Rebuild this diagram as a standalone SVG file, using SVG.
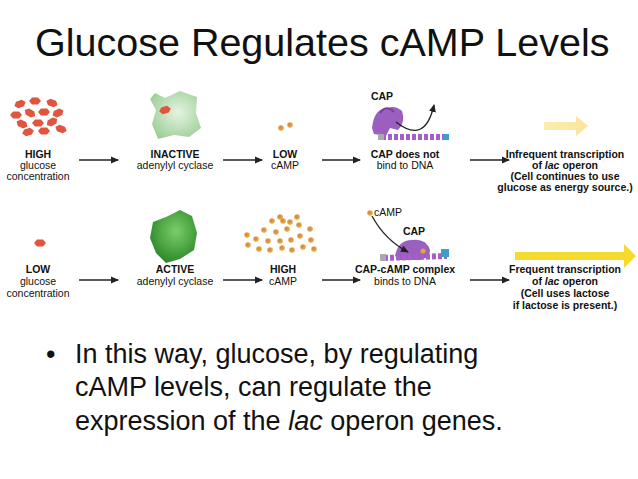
<svg xmlns="http://www.w3.org/2000/svg" xmlns:xlink="http://www.w3.org/1999/xlink" width="638" height="479" viewBox="0 0 638 479">
<style>
.t{font-family:"Liberation Sans",Arial,sans-serif;font-size:10.5px;fill:#111;text-anchor:middle}
.b{font-weight:bold}
.title{font-family:"Liberation Sans",Arial,sans-serif;font-size:39.5px;fill:#111}
.bul{font-family:"Liberation Sans",Arial,sans-serif;font-size:27px;fill:#111}
.con{stroke:#222;stroke-width:1.3;fill:none}
</style>
<defs>
<marker id="ah" markerWidth="8" markerHeight="8" refX="7" refY="4" orient="auto" markerUnits="userSpaceOnUse"><path d="M0,0.5L8,4L0,7.5z" fill="#222"/></marker>
<polygon id="glu" points="-6,0 -3,-3.5 3,-3.5 6,0 3,3.5 -3,3.5" fill="#e0553f"/>
<g id="camp"><circle r="2.8" fill="#e8a33a"/><circle r="1.5" cx="-0.5" cy="-0.5" fill="#c98a6a"/></g>
<radialGradient id="gl" cx="0.55" cy="0.45" r="0.6"><stop offset="0" stop-color="#e6f3e3"/><stop offset="1" stop-color="#9fcf98"/></radialGradient>
<radialGradient id="gd" cx="0.55" cy="0.4" r="0.6"><stop offset="0" stop-color="#7ccd6a"/><stop offset="1" stop-color="#2e8a2a"/></radialGradient>
<linearGradient id="yl" x1="0" x2="1"><stop offset="0" stop-color="#fbeeb0"/><stop offset="1" stop-color="#fae49a"/></linearGradient>
</defs>
<text class="title" x="35" y="56">Glucose Regulates cAMP Levels</text>

<g id="glucose-high">
<use xlink:href="#glu" x="20" y="104" transform="rotate(-20 20 104)"/><use xlink:href="#glu" x="35" y="101"/><use xlink:href="#glu" x="52" y="103" transform="rotate(20 52 103)"/>
<use xlink:href="#glu" x="16" y="115"/><use xlink:href="#glu" x="30" y="113" transform="rotate(30 30 113)"/><use xlink:href="#glu" x="44" y="112"/><use xlink:href="#glu" x="58" y="113" transform="rotate(-25 58 113)"/>
<use xlink:href="#glu" x="22" y="124" transform="rotate(25 22 124)"/><use xlink:href="#glu" x="38" y="123"/><use xlink:href="#glu" x="52" y="122" transform="rotate(-30 52 122)"/>
<use xlink:href="#glu" x="44" y="131"/><use xlink:href="#glu" x="61" y="129" transform="rotate(20 61 129)"/><use xlink:href="#glu" x="28" y="132" transform="rotate(-15 28 132)"/>
<text class="t b" x="38" y="158">HIGH</text><text class="t" x="38" y="169">glucose</text><text class="t" x="38" y="180">concentration</text>
</g>
<g id="cyclase-inactive">
<path d="M155,93 L165,98 L180,91 L197,97 L196,113 L201,128 L189,137 L174,135 L158,139 L152,124 L156,110 L150,99 Z" fill="url(#gl)"/>
<use xlink:href="#glu" x="165" y="110" transform="rotate(-15 165 110)"/>
<text class="t b" x="175" y="158">INACTIVE</text><text class="t" x="175" y="169">adenylyl cyclase</text>
</g>
<g id="camp-low">
<use xlink:href="#camp" x="281" y="128"/><use xlink:href="#camp" x="290" y="125"/>
<text class="t b" x="285" y="158">LOW</text><text class="t" x="285" y="169">cAMP</text>
</g>
<g id="cap-unbound">
<text class="t b" x="382" y="100">CAP</text>
<path d="M372,128 Q374,108 388,108 Q395,105 402,111 Q406,122 398,130 L390,128 L386,136 L374,134 Z" fill="#9b5fc0"/>
<path d="M380,113 Q386,104 394,112" stroke="#7a3fa0" fill="none" stroke-width="2"/>
<path d="M382,137 L449,137" stroke="#a45fc8" stroke-width="6" stroke-dasharray="4 2"/>
<rect x="378" y="134" width="6" height="6" fill="#aaa"/><rect x="443" y="134" width="6" height="6" fill="#3aa0c8"/>
<path d="M396,122 Q425,145 434,105" class="con" marker-end="url(#ah)"/>
<text class="t b" x="405" y="158">CAP does not</text><text class="t" x="405" y="169">bind to DNA</text>
</g>
<g id="transcription-low">
<path d="M544,122 L576,122 L576,116 L588,126 L576,136 L576,130 L544,130 Z" fill="url(#yl)"/>
<text class="t b" x="565" y="158">Infrequent transcription</text>
<text class="t b" x="565" y="169">of <tspan font-style="italic">lac</tspan> operon</text>
<text class="t b" x="565" y="180">(Cell continues to use</text>
<text class="t b" x="565" y="191">glucose as energy source.)</text>
</g>

<g id="glucose-low">
<use xlink:href="#glu" x="40" y="243"/>
<text class="t b" x="38" y="273">LOW</text><text class="t" x="38" y="285">glucose</text><text class="t" x="38" y="297">concentration</text>
</g>
<g id="cyclase-active">
<path d="M153,222 L166,217 L180,210 L192,216 L197,233 L194,250 L180,259 L166,263 L156,253 L150,238 Z" fill="url(#gd)"/>
<text class="t b" x="175" y="273">ACTIVE</text><text class="t" x="175" y="285">adenylyl cyclase</text>
</g>
<g id="camp-high">
<use xlink:href="#camp" x="272" y="221"/><use xlink:href="#camp" x="280" y="217"/><use xlink:href="#camp" x="290" y="222"/><use xlink:href="#camp" x="299" y="225"/><use xlink:href="#camp" x="310" y="229"/><use xlink:href="#camp" x="264" y="230"/><use xlink:href="#camp" x="276" y="232"/><use xlink:href="#camp" x="287" y="229"/><use xlink:href="#camp" x="300" y="236"/><use xlink:href="#camp" x="311" y="240"/><use xlink:href="#camp" x="256" y="239"/><use xlink:href="#camp" x="268" y="241"/><use xlink:href="#camp" x="280" y="241"/><use xlink:href="#camp" x="291" y="240"/><use xlink:href="#camp" x="303" y="247"/><use xlink:href="#camp" x="314" y="249"/><use xlink:href="#camp" x="259" y="249"/><use xlink:href="#camp" x="270" y="250"/><use xlink:href="#camp" x="282" y="248"/><use xlink:href="#camp" x="292" y="250"/><use xlink:href="#camp" x="248" y="245"/><use xlink:href="#camp" x="297" y="217"/><use xlink:href="#camp" x="283" y="221"/><use xlink:href="#camp" x="247" y="235"/>
<text class="t b" x="283" y="273">HIGH</text><text class="t" x="283" y="285">cAMP</text>
</g>
<g id="cap-bound">
<use xlink:href="#camp" x="370" y="213"/><text class="t" x="388" y="216">cAMP</text>
<text class="t b" x="414" y="235">CAP</text>
<path d="M395,256 Q398,240 412,240 Q426,238 430,250 Q430,258 420,260 L400,260 Z" fill="#9b5fc0"/>
<path d="M384,258 L447,256" stroke="#a45fc8" stroke-width="6" stroke-dasharray="4 2"/>
<rect x="380" y="254" width="6" height="7" fill="#aaa"/><rect x="441" y="249" width="8" height="8" fill="#3aa0c8"/>
<circle cx="423" cy="251" r="2.6" fill="#e8a33a"/>
<path d="M372,216 Q385,240 408,252" class="con" marker-end="url(#ah)"/>
<text class="t b" x="405" y="273">CAP-cAMP complex</text><text class="t" x="405" y="285">binds to DNA</text>
</g>
<g id="transcription-high">
<path d="M515,252 L624,252 L624,244 L636,256 L624,268 L624,260 L515,260 Z" fill="#f6da2c"/>
<text class="t b" x="565" y="273">Frequent transcription</text>
<text class="t b" x="565" y="285">of <tspan font-style="italic">lac</tspan> operon</text>
<text class="t b" x="565" y="297">(Cell uses lactose</text>
<text class="t b" x="565" y="309">if lactose is present.)</text>
</g>

<g id="connectors">
<path class="con" d="M79,160 L118,160" marker-end="url(#ah)"/>
<path class="con" d="M223,160 L262,160" marker-end="url(#ah)"/>
<path class="con" d="M322,160 L360,160" marker-end="url(#ah)"/>
<path class="con" d="M470,160 L509,160" marker-end="url(#ah)"/>
<path class="con" d="M79,280 L118,280" marker-end="url(#ah)"/>
<path class="con" d="M223,280 L262,280" marker-end="url(#ah)"/>
<path class="con" d="M322,280 L360,280" marker-end="url(#ah)"/>
<path class="con" d="M470,280 L509,280" marker-end="url(#ah)"/>
</g>

<g id="bullet">
<text class="bul" x="46" y="363">•</text>
<text class="bul" x="75" y="363">In this way, glucose, by regulating</text>
<text class="bul" x="75" y="396">cAMP levels, can regulate the</text>
<text class="bul" x="75" y="430">expression of the <tspan font-style="italic">lac</tspan> operon genes.</text>
</g>
</svg>
